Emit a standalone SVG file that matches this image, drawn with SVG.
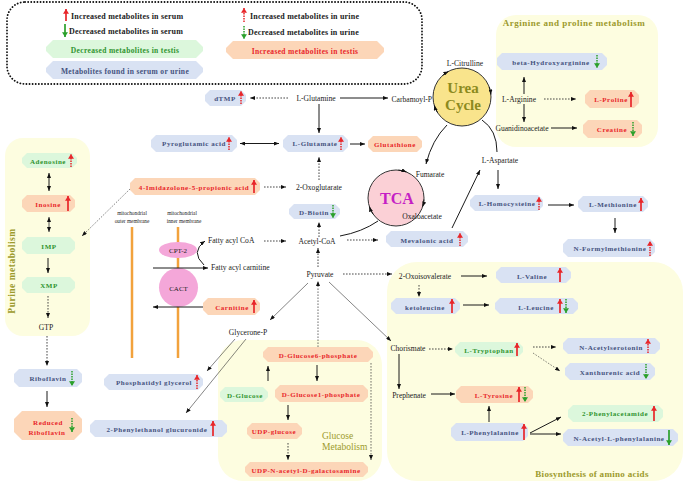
<svg xmlns="http://www.w3.org/2000/svg" width="685" height="483" viewBox="0 0 685 483">
<style>
text{font-family:"Liberation Serif","Times New Roman",serif}
.nb{fill:#d9e2f3}
.ng{fill:#dcf7dc}
.no{fill:#fcd6b8}
.rg{fill:#fdfde0}
.n{font-size:7px;font-weight:bold;letter-spacing:.55px;text-anchor:middle}
.cb{fill:#45527e}
.cg{fill:#2f942f}
.cr{fill:#e8262a}
.l{font-size:7.6px;fill:#222;text-anchor:middle}
.ls{text-anchor:start}
.lg{font-size:8px;font-weight:bold;letter-spacing:.2px;fill:#222}
.ttl{font-weight:bold;fill:#9c9a2c;font-size:9px}
.s{fill:none;stroke:#1a1a1a;stroke-width:1;marker-end:url(#a)}
.b{marker-start:url(#a)}
.d{fill:none;stroke:#333;stroke-width:.9;stroke-dasharray:1.6 1.4;marker-end:url(#a)}
.th{fill:none;stroke:#333;stroke-width:.6;marker-end:url(#a)}
.ir{stroke:#e8262a;stroke-width:1.7;marker-end:url(#mr)}
.ird{stroke:#e8262a;stroke-width:1.5;stroke-dasharray:1.5 1;marker-end:url(#mr)}
.ig{stroke:#2ba02b;stroke-width:1.7;marker-end:url(#mg)}
.igd{stroke:#2ba02b;stroke-width:1.5;stroke-dasharray:1.5 1;marker-end:url(#mg)}
.mem{stroke:#f2a23c;stroke-width:2.5}
.pk{fill:#f4a7d9}
.tiny{font-size:5.3px;fill:#222;text-anchor:middle}
</style>
<defs>
<marker id="a" viewBox="0 0 10 8" refX="10" refY="4" markerWidth="5" markerHeight="4" markerUnits="userSpaceOnUse" orient="auto-start-reverse"><path d="M0,0L10,4L0,8z" fill="#111"/></marker>
<marker id="mr" viewBox="0 0 8 10" refX="8" refY="5" markerWidth="5" markerHeight="6" markerUnits="userSpaceOnUse" orient="auto"><path d="M0,0L8,5L0,10z" fill="#e8262a"/></marker>
<marker id="mg" viewBox="0 0 8 10" refX="8" refY="5" markerWidth="5" markerHeight="6" markerUnits="userSpaceOnUse" orient="auto"><path d="M0,0L8,5L0,10z" fill="#2ba02b"/></marker>
</defs>

<g id="regions">
<rect class="rg" x="496" y="15" width="162" height="132" rx="20"/>
<rect class="rg" x="5" y="138" width="85" height="198" rx="18"/>
<rect class="rg" x="218" y="340" width="164" height="141" rx="25"/>
<rect class="rg" x="387" y="262" width="296" height="219" rx="30"/>
<text class="ttl" x="574" y="26" text-anchor="middle" letter-spacing=".5">Arginine and proline metabolism</text>
<text class="ttl" x="592" y="477" text-anchor="middle" letter-spacing=".3">Biosynthesis of amino acids</text>
<text class="ttl" transform="translate(15,271) rotate(-90)" text-anchor="middle" style="font-size:9.5px" letter-spacing=".5">Purine metabolism</text>
<text x="322" y="439" style="font-size:9.5px;fill:#9c9a2c">Glucose</text>
<text x="322" y="450" style="font-size:9.5px;fill:#9c9a2c">Metabolism</text>
</g>

<g id="legend">
<rect x="7" y="2" width="415" height="82" rx="18" fill="none" stroke="#111" stroke-width="1.8" stroke-dasharray="0.1 3" stroke-linecap="round"/>
<line class="ir" x1="66" y1="21" x2="66" y2="9"/>
<text class="lg" x="71" y="19">Increased metabolites in serum</text>
<line class="ig" x1="65" y1="24" x2="65" y2="37"/>
<text class="lg" x="69" y="34">Decreased metabolites in serum</text>
<line class="ird" x1="244" y1="22" x2="244" y2="8"/>
<text class="lg" x="250" y="19">Increased metabolites in urine</text>
<line class="igd" x1="244" y1="26" x2="244" y2="39"/>
<text class="lg" x="248" y="35">Decreased metabolites in urine</text>
<polygon class="ng" points="53,40 196,40 203,47 203,51 196,58 53,58 46,51 46,47"/>
<text class="n cg" x="125" y="52.5" style="font-size:7.5px;letter-spacing:.35px">Decreased metabolites in testis</text>
<polygon class="nb" points="53,61 196,61 203,68 203,72 196,79 53,79 46,72 46,68"/>
<text class="n cb" x="125" y="73.5" style="font-size:7.5px;letter-spacing:.35px">Metabolites found in serum or urine</text>
<polygon class="no" points="233,41 377,41 384,48 384,52 377,59 233,59 226,52 226,48"/>
<text class="n cr" x="305" y="53.5" style="font-size:7.5px;letter-spacing:.35px">Increased metabolites in testis</text>
</g>

<g id="membranes">
<line class="mem" x1="132" y1="227" x2="132" y2="358"/>
<line class="mem" x1="178" y1="227" x2="178" y2="358"/>
<text class="tiny" x="132" y="215">mitochondrial</text>
<text class="tiny" x="132" y="223">outer membrane</text>
<text class="tiny" x="182" y="215">mitochondrial</text>
<text class="tiny" x="184" y="223">inner membrane</text>
</g>

<g id="cpt2"><ellipse class="pk" cx="178" cy="250" rx="19" ry="8"/><text class="l" x="178" y="253" style="font-size:7px">CPT-2</text></g>
<g id="cact"><circle class="pk" cx="178.5" cy="287.5" r="19.5"/><text class="l" x="178.5" y="290.5" style="font-size:7px">CACT</text></g>

<g id="urea-cycle"><circle cx="462" cy="97" r="29" fill="#f9e48c" stroke="#333" stroke-width="1"/>
<text x="463" y="93" text-anchor="middle" style="font-size:15px;font-weight:bold;fill:#8c8a1e">Urea</text>
<text x="463" y="110" text-anchor="middle" style="font-size:15px;font-weight:bold;fill:#8c8a1e">Cycle</text></g>
<g id="tca"><circle cx="396" cy="198" r="28" fill="#fbd0d6" stroke="#333" stroke-width="1"/>
<text x="397" y="204" text-anchor="middle" style="font-size:16px;font-weight:bold;fill:#c51fc5">TCA</text></g>

<g id="labels">
<text class="l" x="465" y="66">L-Citrulline</text>
<text class="l" x="432" y="102" style="text-anchor:end">Carbamoyl-P</text>
<text class="l" x="316" y="101">L-Glutamine</text>
<text class="l" x="519" y="102">L-Arginine</text>
<text class="l" x="522" y="131">Guanidinoacetate</text>
<text class="l" x="500" y="163">L-Aspartate</text>
<text class="l" x="430" y="177">Fumarate</text>
<text class="l" x="422" y="219">Oxaloacetate</text>
<text class="l" x="319" y="190">2-Oxoglutarate</text>
<text class="l" x="317" y="244">Acetyl-CoA</text>
<text class="l ls" x="208" y="243">Fatty acyl CoA</text>
<text class="l ls" x="211" y="270">Fatty acyl carnitine</text>
<text class="l" x="320" y="277">Pyruvate</text>
<text class="l" x="425" y="279">2-Oxoisovalerate</text>
<text class="l" x="408" y="351">Chorismate</text>
<text class="l" x="409" y="398">Prephenate</text>
<text class="l" x="248" y="335">Glycerone-P</text>
<text class="l" x="46" y="330">GTP</text>
</g>

<g id="dTMP"><polygon class="nb" points="210,90 241,90 246,95 246,101 241,106 210,106 205,101 205,95"/><text class="n cb" x="225" y="101">dTMP</text><line class="ird" x1="241" y1="104" x2="241" y2="91"/></g>
<g id="pyroglutamic"><polygon class="nb" points="156,135 232,135 237,140 237,147 232,152 156,152 151,147 151,140"/><text class="n cb" x="194" y="146">Pyroglutamic acid</text><line class="ird" x1="229" y1="150" x2="229" y2="137"/></g>
<g id="glutamate"><polygon class="nb" points="288,135 343,135 348,140 348,147 343,152 288,152 283,147 283,140"/><text class="n cb" x="315" y="146">L-Glutamate</text><line class="ird" x1="341" y1="150" x2="341" y2="137"/></g>
<g id="glutathione"><polygon class="no" points="373,136 417,136 422,141 422,147 417,152 373,152 368,147 368,141"/><text class="n cr" x="395" y="147">Glutathione</text></g>
<g id="imidazolone"><polygon class="no" points="135,178 255,178 260,183 260,190 255,195 135,195 130,190 130,183"/><text class="n cr" x="194" y="190">4-Imidazolone-5-propionic acid</text><line class="ir" x1="254" y1="193" x2="254" y2="180"/></g>
<g id="biotin"><polygon class="nb" points="294,204 335,204 340,209 340,214 335,219 294,219 289,214 289,209"/><text class="n cb" x="314" y="215">D-Biotin</text><line class="igd" x1="333" y1="205" x2="333" y2="218"/></g>
<g id="carnitine"><polygon class="no" points="208,298 255,298 260,303 260,310 255,315 208,315 203,310 203,303"/><text class="n cr" x="232" y="310">Carnitine</text><line class="ir" x1="254" y1="313" x2="254" y2="300"/></g>
<g id="mevalonic"><polygon class="nb" points="391,231 463,231 468,236 468,242 463,247 391,247 386,242 386,236"/><text class="n cb" x="427" y="243">Mevalonic acid</text><line class="ird" x1="460" y1="246" x2="460" y2="233"/></g>
<g id="homocysteine"><polygon class="nb" points="475,195 538,195 543,200 543,206 538,211 475,211 470,206 470,200"/><text class="n cb" x="507" y="206">L-Homocysteine</text><line class="ird" x1="539" y1="210" x2="539" y2="197"/></g>
<g id="methionine"><polygon class="nb" points="583,196 643,196 648,201 648,207 643,212 583,212 578,207 578,201"/><text class="n cb" x="613" y="207">L-Methionine</text><line class="ir" x1="641" y1="211" x2="641" y2="198"/></g>
<g id="formylmethionine"><polygon class="nb" points="568,239 650,239 655,244 655,252 650,257 568,257 563,252 563,244"/><text class="n cb" x="610" y="251">N-Formylmethionine</text><line class="ird" x1="650" y1="256" x2="650" y2="241"/></g>
<g id="hydroxyarginine"><polygon class="nb" points="502,53 602,53 607,58 607,65 602,70 502,70 497,65 497,58"/><text class="n cb" x="551" y="64.5">beta-Hydroxyarginine</text><line class="igd" x1="597" y1="55" x2="597" y2="68"/></g>
<g id="proline"><polygon class="no" points="590,90 634,90 639,95 639,103 634,108 590,108 585,103 585,95"/><text class="n cr" x="611" y="102">L-Proline</text><line class="ir" x1="631" y1="107" x2="631" y2="92"/></g>
<g id="creatine"><polygon class="no" points="588,120 637,120 642,125 642,133 637,138 588,138 583,133 583,125"/><text class="n cr" x="612" y="132">Creatine</text><line class="igd" x1="633" y1="122" x2="633" y2="136"/></g>
<g id="valine"><polygon class="nb" points="501,267 566,267 571,272 571,278 566,283 501,283 496,278 496,272"/><text class="n cb" x="532" y="279">L-Valine</text><line class="ir" x1="560" y1="282" x2="560" y2="268"/></g>
<g id="ketoleucine"><polygon class="nb" points="396,298 455,298 460,303 460,309 455,314 396,314 391,309 391,303"/><text class="n cb" x="425" y="310">ketoleucine</text><line class="ir" x1="452" y1="313" x2="452" y2="299"/></g>
<g id="leucine"><polygon class="nb" points="500,298 573,298 578,303 578,309 573,314 500,314 495,309 495,303"/><text class="n cb" x="536" y="310">L-Leucine</text><line class="ir" x1="560" y1="313" x2="560" y2="299"/><line class="igd" x1="566" y1="299" x2="566" y2="313"/></g>
<g id="tryptophan"><polygon class="ng" points="460,342 518,342 523,347 523,352 518,357 460,357 455,352 455,347"/><text class="n cg" x="489" y="353">L-Tryptophan</text><line class="ir" x1="517" y1="356" x2="517" y2="343"/></g>
<g id="acetylserotonin"><polygon class="nb" points="568,338 655,338 660,343 660,349 655,354 568,354 563,349 563,343"/><text class="n cb" x="611" y="349.5">N-Acetylserotonin</text><line class="ird" x1="648" y1="353" x2="648" y2="339"/></g>
<g id="xanthurenic"><polygon class="nb" points="570,363 650,363 655,368 655,375 650,380 570,380 565,375 565,368"/><text class="n cb" x="610" y="374.5">Xanthurenic acid</text><line class="igd" x1="646" y1="364" x2="646" y2="379"/></g>
<g id="tyrosine"><polygon class="no" points="461,386 528,386 533,391 533,398 528,403 461,403 456,398 456,391"/><text class="n cr" x="494" y="397.5">L-Tyrosine</text><line class="ir" x1="519" y1="402" x2="519" y2="387"/><line class="igd" x1="525" y1="387" x2="525" y2="402"/></g>
<g id="phenylalanine"><polygon class="nb" points="456,423 523,423 528,428 528,436 523,441 456,441 451,436 451,428"/><text class="n cb" x="490" y="435">L-Phenylalanine</text><line class="ir" x1="524" y1="440" x2="524" y2="424"/></g>
<g id="phenylacetamide"><polygon class="ng" points="573,405 658,405 663,410 663,417 658,422 573,422 568,417 568,410"/><text class="n cg" x="615" y="416">2-Phenylacetamide</text><line class="ir" x1="654" y1="421" x2="654" y2="406"/></g>
<g id="acetylphenylalanine"><polygon class="nb" points="568,429 673,429 678,434 678,441 673,446 568,446 563,441 563,434"/><text class="n cb" x="619" y="440.5">N-Acetyl-L-phenylalanine</text><line class="ig" x1="669" y1="430" x2="669" y2="445"/></g>
<g id="glucose6p"><polygon class="no" points="268,347 368,347 373,352 373,357 368,362 268,362 263,357 263,352"/><text class="n cr" x="318" y="357.5">D-Glucose6-phosphate</text></g>
<g id="glucose"><polygon class="ng" points="225,387 263,387 268,392 268,397 263,402 225,402 220,397 220,392"/><text class="n cg" x="245" y="397.5">D-Glucose</text></g>
<g id="glucose1p"><polygon class="no" points="280,385 363,385 368,390 368,397 363,402 280,402 275,397 275,390"/><text class="n cr" x="321" y="396.5">D-Glucose1-phosphate</text></g>
<g id="udpglucose"><polygon class="no" points="252,423 297,423 302,428 302,434 297,439 252,439 247,434 247,428"/><text class="n cr" x="274" y="433.5">UDP-glucose</text></g>
<g id="udpgalnac"><polygon class="no" points="250,462 363,462 368,467 368,472 363,477 250,477 245,472 245,467"/><text class="n cr" x="306" y="472.5">UDP-N-acetyl-D-galactosamine</text></g>
<g id="phosphatidylglycerol"><polygon class="nb" points="109,374 198,374 203,379 203,385 198,390 109,390 104,385 104,379"/><text class="n cb" x="154" y="385">Phosphatidyl glycerol</text><line class="ird" x1="197" y1="389" x2="197" y2="375"/></g>
<g id="phenylethanol"><polygon class="nb" points="95,420 222,420 227,425 227,432 222,437 95,437 90,432 90,425"/><text class="n cb" x="157" y="431.5">2-Phenylethanol glucuronide</text><line class="ir" x1="213" y1="436" x2="213" y2="421"/></g>
<g id="adenosine"><polygon class="ng" points="27,153 72,153 77,158 77,163 72,168 27,168 22,163 22,158"/><text class="n cg" x="48" y="163.5">Adenosine</text><line class="ird" x1="71" y1="167" x2="71" y2="154"/></g>
<g id="inosine"><polygon class="no" points="27,195 70,195 75,200 75,207 70,212 27,212 22,207 22,200"/><text class="n cr" x="48" y="206.5">Inosine</text><line class="ir" x1="68" y1="211" x2="68" y2="196"/></g>
<g id="imp"><polygon class="ng" points="27,237 70,237 75,242 75,249 70,254 27,254 22,249 22,242"/><text class="n cg" x="49" y="248.5">IMP</text></g>
<g id="xmp"><polygon class="ng" points="27,277 70,277 75,282 75,288 70,293 27,293 22,288 22,282"/><text class="n cg" x="49" y="288">XMP</text></g>
<g id="riboflavin"><polygon class="nb" points="19,369 77,369 82,374 82,382 77,387 19,387 14,382 14,374"/><text class="n cb" x="48" y="381">Riboflavin</text><line class="igd" x1="72" y1="371" x2="72" y2="386"/></g>
<g id="reducedriboflavin"><polygon class="no" points="22,411 74,411 82,419 82,432 74,440 22,440 14,432 14,419"/><text class="n cr" x="48" y="424.5">Reduced</text><text class="n cr" x="47" y="435">Riboflavin</text><line class="igd" x1="72" y1="418" x2="72" y2="432"/></g>

<g id="connectors">
<path class="d" d="M288,98H250"/>
<path class="s" d="M340,98H388"/>
<path class="s" d="M319,104V133"/>
<path class="s b" d="M240,143.5H279"/>
<path class="s" d="M350,144H365"/>
<path class="d" d="M264,187H286"/>
<path class="d" d="M319,180V157"/>
<path class="d" d="M130,189L82,236" style="stroke-width:.6"/>
<path class="d" d="M319,237V222"/>
<path class="d" d="M264,241H286"/>
<path class="d" d="M318,267V248"/>
<path class="d" d="M347,240H378"/>
<path class="s" d="M340,236Q362,232 378,221" style="marker-end:none"/>
<path class="s" d="M452,228L480,170"/>
<path class="s" d="M497,152Q497,130 482,120" style="marker-end:none"/>
<path class="s" d="M447,125Q432,140 426,164"/>
<path class="s" d="M442.6,75.5A29,29 0 0 1 448.4,71.4"/>
<path class="s" d="M489.3,87.1A29,29 0 0 1 490.9,94.5"/>
<path class="s" d="M437.4,112.4A29,29 0 0 1 434.3,105.5"/>
<path class="s" d="M398.4,170.1A28,28 0 0 1 406.5,172"/>
<path class="s" d="M424,199.5A28,28 0 0 1 422.6,206.7"/>
<path class="s" d="M373.1,214.1A28,28 0 0 1 369.4,206.7"/>
<path class="s" d="M524,94V77"/>
<path class="s" d="M524,104V122"/>
<path class="d" d="M544,99H576"/>
<path class="s" d="M551,128H577"/>
<path class="s" d="M498,170V189"/>
<path class="s" d="M548,205H574"/>
<path class="s" d="M615,218V233"/>
<path class="d" d="M343,274H392"/>
<path class="s" d="M461,276H487"/>
<path class="d" d="M419,285V297"/>
<path class="s" d="M463,305H489"/>
<path class="th" d="M329,282L391,341"/>
<path class="d" d="M429,349H453"/>
<path class="d" d="M533,347H556"/>
<path class="th" d="M533,353L560,371" style="stroke-dasharray:1.6 1.4"/>
<path class="s" d="M399,354V389"/>
<path class="s" d="M431,394H455"/>
<path class="s" d="M489,422V406"/>
<path class="s" d="M530,433L561,417"/>
<path class="s" d="M530,434H561"/>
<path class="th" d="M308,283L270,320"/>
<path class="d" d="M318,347V281" style="stroke-width:.7"/>
<path class="th" d="M235,339L207,371"/>
<path class="th" d="M246,339L186,413"/>
<path class="s" d="M268,381V366"/>
<path class="s" d="M317,365V381"/>
<path class="s" d="M288,405V420"/>
<path class="d" d="M288,443V460"/>
<path class="d" d="M371,363V460" style="stroke-width:.7"/>
<path class="s" d="M153,268H208"/>
<path class="s" d="M204,265Q190,252 205,241"/>
<path class="s" d="M203,307H153"/>
<path class="s b" d="M49,173V191"/>
<path class="s b" d="M49,217V232" style="stroke:#555"/>
<path class="s" d="M48,258V273"/>
<path class="d" d="M48,296V318"/>
<path class="d" d="M47,336V366"/>
<path class="s" d="M47,391V407"/>
</g>
</svg>
